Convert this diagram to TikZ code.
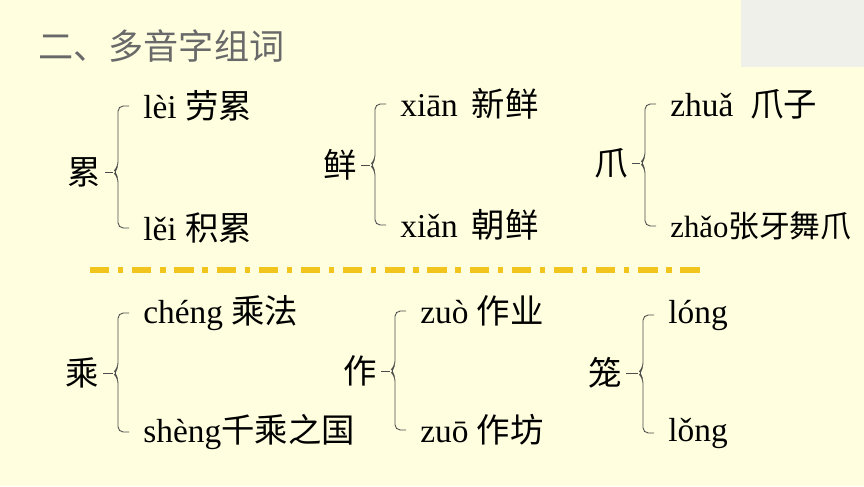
\documentclass[tikz,border=0pt]{standalone}
\usepackage{fontspec}
\setmainfont{Liberation Serif}
\newfontfamily\cjk{Noto Sans CJK SC}
\usetikzlibrary{calc}
\definecolor{paper}{RGB}{255,255,224}
\definecolor{corner}{RGB}{240,240,234}
\definecolor{gold}{RGB}{242,196,30}
\definecolor{titlegrey}{RGB}{105,105,105}
\tikzset{
  root/.style={inner sep=0pt, font=\cjk\fontsize{19}{22}\selectfont},
  word/.style={anchor=west, inner sep=0pt, font=\fontsize{19}{22}\selectfont},
  brc/.style={draw=black!70, line width=0.5pt, rounded corners=3pt},
}
% root, top word, bottom word
\newcommand\fork[3]{%
  \coordinate (#1t) at ($(#2.west)+(-25,0)$);
  \coordinate (#1b) at ($(#3.west)+(-25,0)$);
  \coordinate (#1m) at (#1t |- #1.east);
  \draw[brc] ($(#2.west)+(-14,0)$) -- (#1t) -- ($(#1m)+(0,-5)$) -- ($(#1m)+(-5,0)$)
    -- ($(#1m)+(0,5)$) -- (#1b) -- ($(#3.west)+(-14,0)$);
  \draw[brc] ($(#1m)+(-5,0)$) -- ($(#1.east)+(4,0)$);
}
\begin{document}
\begin{tikzpicture}[x=0.02cm, y=-0.02cm]
  \fill[paper] (0,0) rectangle (864,486);
  \useasboundingbox (0,0) rectangle (864,486);
  \fill[corner] (741,0) rectangle (864,67);

  \node[anchor=west, inner sep=0pt, text=titlegrey, font=\cjk\fontsize{20}{24}\selectfont] (title) at (38,46) {二、多音字组词};

  % top row
  \node[root] (lei) at (84,172) {累};
  \node[word] (lei1) at (143,106) {lèi {\cjk 劳累}};
  \node[word] (lei2) at (143,228) {lěi {\cjk 积累}};
  \fork{lei}{lei1}{lei2}

  \node[root] (xian) at (340,165) {鲜};
  \node[word] (xian1) at (400,104) {xiān \,{\cjk 新鲜}};
  \node[word] (xian2) at (400,225) {xiǎn \,{\cjk 朝鲜}};
  \fork{xian}{xian1}{xian2}

  \node[root] (zhua) at (611,163) {爪};
  \node[word] (zhua1) at (670,104) {zhuǎ \ {\cjk 爪子}};
  \node[word, font=\fontsize{17.5}{21}\selectfont] (zhua2) at (670,226) {zhǎo{\cjk 张牙舞爪}};
  \fork{zhua}{zhua1}{zhua2}

  \coordinate (dl) at (90,270);
  \coordinate (dr) at (705,270);
  \draw[gold, line width=3pt, dash pattern=on 11pt off 5pt on 3pt off 5pt] (dl) -- (dr);

  % bottom row
  \node[root] (cheng) at (82,373) {乘};
  \node[word] (cheng1) at (143,313) {chéng {\cjk 乘法}};
  \node[word] (cheng2) at (143,432) {shèng{\cjk 千乘之国}};
  \fork{cheng}{cheng1}{cheng2}

  \node[root] (zuo) at (360,371) {作};
  \node[word] (zuo1) at (420,311) {zuò {\cjk 作业}};
  \node[word] (zuo2) at (420,430) {zuō {\cjk 作坊}};
  \fork{zuo}{zuo1}{zuo2}

  \node[root] (long) at (605,373) {笼};
  \node[word] (long1) at (668,315) {lóng};
  \node[word] (long2) at (668,433) {lǒng};
  \fork{long}{long1}{long2}
\end{tikzpicture}
\end{document}
